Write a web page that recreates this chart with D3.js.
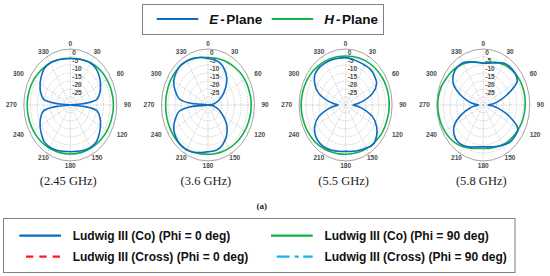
<!DOCTYPE html>
<html>
<head>
<meta charset="utf-8">
<script src="https://cdn.jsdelivr.net/npm/d3@7"></script>
<style>
  body { margin: 0; background: #fff; }
  text { font-family: "Liberation Sans", Arial, sans-serif; }
</style>
</head>
<body>
<svg id="chart" width="550" height="276"></svg>
<script>
// ---- data (dB, clockwise from top; extra samples around the 90/270 nulls) ----
const angles = [0, 10, 20, 30, 40, 50, 60, 70, 80, 85, 90, 95, 100, 110, 120, 130, 140, 150, 160, 170,
                180, 190, 200, 210, 220, 230, 240, 250, 260, 265, 270, 275, 280, 290, 300, 310, 320, 330, 340, 350];
const freqs = ["(2.45 GHz)", "(3.6 GHz)", "(5.5 GHz)", "(5.8 GHz)"];

const e245 = [-5.95, -5.8, -5.25, -4.7, -5.1, -6.65, -8.75, -11.2, -14.7, -24.5, -35, -24.5, -14.7, -11.2, -8.75, -6.65, -4.7, -4.4, -4.9, -5.6,
              -5.8, -5.6, -4.9, -4.4, -4.7, -6.65, -8.75, -11.2, -14.7, -24.5, -35, -24.5, -14.7, -11.2, -8.75, -6.65, -4.9, -4.7, -5.25, -5.8];
const h245 = [-5.8, -5.6, -5.2, -4.4, -3.9, -3.5, -3.2, -2.9, -2.7, -2.6, -2.6, -2.6, -2.7, -2.8, -3.0, -3.3, -3.6, -3.9, -4.1, -4.3,
              -4.4, -4.3, -4.1, -3.8, -3.4, -3.1, -2.9, -2.7, -2.6, -2.6, -2.6, -2.6, -2.7, -2.9, -3.3, -3.8, -4.3, -4.6, -5.2, -5.6];

const e36 = [-5.95, -6.3, -7.35, -9.8, -12.95, -17.5, -22.05, -26.25, -30.1, -32.2, -35, -32.2, -30.1, -26.25, -22.05, -16.8, -12.6, -9.45, -7.0, -5.95,
             -5.8, -4.9, -3.5, -2.6, -2.6, -3.5, -5.25, -8.75, -13.3, -21.0, -35, -21.0, -13.3, -8.75, -5.25, -3.6, -2.8, -3.2, -3.85, -4.9];
const h36 = [-5.4, -5.2, -4.9, -4.5, -4.0, -3.5, -3.1, -2.8, -2.6, -2.5, -2.45, -2.5, -2.55, -2.7, -2.9, -3.1, -3.4, -3.7, -3.9, -4.1,
             -4.2, -4.0, -3.6, -3.0, -2.7, -2.7, -2.9, -3.0, -3.1, -3.15, -3.15, -3.15, -3.1, -3.0, -2.9, -2.9, -3.0, -3.3, -4.0, -4.7];

const e55 = [-5.4, -5.95, -6.3, -6.3, -5.95, -6.65, -8.05, -13.3, -22.05, -26.25, -29.4, -26.25, -22.05, -13.3, -8.05, -4.6, -2.8, -3.9, -4.9, -5.6,
             -6.0, -5.6, -4.9, -4.2, -4.2, -5.3, -8.05, -13.3, -22.05, -26.25, -29.4, -26.25, -22.05, -13.3, -8.05, -4.9, -4.3, -4.6, -4.9, -5.3];
const h55 = [-4.4, -4.2, -3.9, -3.5, -3.2, -2.8, -2.5, -2.3, -2.2, -2.2, -2.2, -2.2, -2.3, -2.5, -2.5, -2.8, -3.2, -3.5, -3.9, -4.2,
             -4.2, -4.0, -3.7, -3.2, -2.6, -2.3, -1.9, -1.8, -1.6, -1.55, -1.5, -1.55, -1.6, -1.8, -2.1, -2.5, -3.0, -3.5, -3.9, -4.2];

const e58 = [-8.9, -8.4, -7.0, -4.7, -3.85, -3.85, -5.6, -15.75, -24.5, -28.0, -31.5, -28.0, -23.8, -14.0, -4.9, -4.2, -4.4, -5.95, -7.35, -8.4,
             -8.9, -8.4, -7.0, -5.6, -5.0, -6.3, -9.8, -17.5, -25.2, -28.7, -31.5, -28.7, -24.5, -16.8, -9.1, -5.6, -4.2, -4.55, -6.3, -8.05];
const h58 = [-8.75, -7.7, -6.65, -5.6, -4.7, -4.0, -3.5, -3.3, -3.3, -3.4, -3.5, -3.6, -3.7, -4.0, -4.55, -5.1, -5.6, -6.3, -7.0, -7.5,
             -7.9, -7.35, -6.3, -4.9, -3.5, -2.45, -1.75, -1.2, -0.9, -0.75, -0.7, -0.75, -0.9, -1.4, -2.45, -3.15, -4.2, -5.25, -6.5, -7.7];

const rTicks = [0, -5, -10, -15, -20, -25];
const rRings = [-30, -25, -20, -15, -10, -5];
const angTicks = d3.range(0, 360, 30);

const legendTop = ["E", "H"];
const legendBottom = [
  "Ludwig III (Co) (Phi = 0 deg)", "Ludwig III (Co) (Phi = 90 deg)",
  "Ludwig III (Cross) (Phi = 0 deg)", "Ludwig III (Cross) (Phi = 90 deg)"
];

const blue = "#0a6cc4", green = "#13b04d", red = "#ff1a1a", cyan = "#14b4ee";

const series = [
  {f: freqs[0], e: e245, h: h245},
  {f: freqs[1], e: e36, h: h36},
  {f: freqs[2], e: e55, h: h55},
  {f: freqs[3], e: e58, h: h58}
];

const svg = d3.select("#chart");
const rx = 46.5, ry = 56, cy = 105;
const cxScale = d3.scalePoint().domain(freqs).range([70.3, 483.3]);
const r = d3.scaleLinear().domain([-35, 0]).range([0, 1]).clamp(true);
const rad = a => a * Math.PI / 180;
const px = (cx, a, v) => cx + rx * r(v) * Math.sin(rad(a));
const py = (a, v) => cy - ry * r(v) * Math.cos(rad(a));

series.forEach(s => {
  const cx = cxScale(s.f);
  const g = svg.append("g");

  // dotted rings
  g.selectAll(".ring").data(rRings).join("ellipse")
    .attr("cx", cx).attr("cy", cy)
    .attr("rx", d => rx * r(d)).attr("ry", d => ry * r(d))
    .attr("fill", "none").attr("stroke", "#b5b5b5")
    .attr("stroke-width", 0.7).attr("stroke-dasharray", "1.2,1.3");

  // dotted spokes
  g.selectAll(".spoke").data(angTicks).join("line")
    .attr("x1", cx).attr("y1", cy)
    .attr("x2", a => px(cx, a, 0)).attr("y2", a => py(a, 0))
    .attr("stroke", "#b5b5b5").attr("stroke-width", 0.7)
    .attr("stroke-dasharray", "1.2,1.3");

  // outer ring
  g.append("ellipse")
    .attr("cx", cx).attr("cy", cy).attr("rx", rx).attr("ry", ry)
    .attr("fill", "none").attr("stroke", "#a3a3a3").attr("stroke-width", 1);

  // angle labels
  g.selectAll(".alab").data(angTicks).join("text")
    .attr("x", a => cx + (rx + 7) * Math.sin(rad(a)))
    .attr("y", a => cy - (ry + 5) * Math.cos(rad(a)))
    .attr("text-anchor", a => {
      const sn = Math.sin(rad(a));
      return sn > 0.6 ? "start" : sn < -0.6 ? "end" : "middle";
    })
    .attr("dominant-baseline", "middle")
    .attr("font-size", "6.5px").attr("font-weight", "bold").attr("fill", "#4a4a4a")
    .text(a => a);

  // radial labels
  g.selectAll(".rlab").data(rTicks).join("text")
    .attr("x", cx + 2)
    .attr("y", d => py(0, d) + 4.2)
    .attr("dominant-baseline", "middle")
    .attr("font-size", "6.5px").attr("font-weight", "bold").attr("fill", "#4a4a4a")
    .text(d => d);

  const line = d3.line()
    .x(d => px(cx, d[0], d[1]))
    .y(d => py(d[0], d[1]))
    .curve(d3.curveCatmullRomClosed.alpha(0.5));

  g.append("path")
    .datum(angles.map((a, i) => [a, s.h[i]]))
    .attr("d", line)
    .attr("fill", "none").attr("stroke", green).attr("stroke-width", 1.6);

  g.append("path")
    .datum(angles.map((a, i) => [a, s.e[i]]))
    .attr("d", line)
    .attr("fill", "none").attr("stroke", blue).attr("stroke-width", 1.6);

  // caption
  svg.append("text")
    .attr("x", cx - 2).attr("y", 185)
    .attr("text-anchor", "middle")
    .style("font-family", "'Liberation Serif', serif")
    .attr("font-size", "12.5px").attr("fill", "#222")
    .text(s.f);
});

// (a)
svg.append("text")
  .attr("x", 261.7).attr("y", 209)
  .attr("text-anchor", "middle")
  .style("font-family", "'Liberation Serif', serif")
  .attr("font-size", "9px").attr("font-weight", "bold").attr("fill", "#222")
  .text("(a)");

// ---- top legend ----
svg.append("rect")
  .attr("x", 142.5).attr("y", 4.5).attr("width", 241).attr("height", 30)
  .attr("fill", "#fff").attr("stroke", "#7f7f7f").attr("stroke-width", 1);

const topX = d3.scalePoint().domain(legendTop).range([156.7, 271.7]);
const topColors = d3.scaleOrdinal().domain(legendTop).range([blue, green]);
legendTop.forEach(k => {
  const x0 = topX(k);
  svg.append("line")
    .attr("x1", x0).attr("x2", x0 + 41.6).attr("y1", 19).attr("y2", 19)
    .attr("stroke", topColors(k)).attr("stroke-width", 2);
  const t = svg.append("text")
    .attr("x", x0 + 52.6).attr("y", 24)
    .attr("font-size", "13.5px").attr("font-weight", "bold").attr("fill", "#111");
  t.append("tspan").attr("font-style", "italic").text(k);
  t.append("tspan").attr("dx", 2).text("-");
  t.append("tspan").attr("dx", 1.5).text("Plane");
});

// ---- bottom legend ----
svg.append("rect")
  .attr("x", 3.5).attr("y", 218.5).attr("width", 511.5).attr("height", 54)
  .attr("fill", "#fff").attr("stroke", "#7f7f7f").attr("stroke-width", 1);

const botCol = [19.3, 271];
const botRow = [235.7, 256.7];
const botStyle = [
  {c: blue, x0: 0, dash: null},
  {c: green, x0: 0, dash: null},
  {c: red, x0: 6.7, dash: "7.3,6"},
  {c: cyan, x0: 5.7, dash: "13,5,4,4.5"}
];
legendBottom.forEach((lab, i) => {
  const x = botCol[i % 2], y = botRow[Math.floor(i / 2)];
  const st = botStyle[i];
  svg.append("line")
    .attr("x1", x + st.x0).attr("x2", x + 41.7).attr("y1", y).attr("y2", y)
    .attr("stroke", st.c).attr("stroke-width", 2.2)
    .attr("stroke-dasharray", st.dash);
  svg.append("text")
    .attr("x", x + 53.4).attr("y", y + 4.3)
    .attr("font-size", "12px").attr("font-weight", "bold").attr("fill", "#111")
    .text(lab);
});
</script>
</body>
</html>
